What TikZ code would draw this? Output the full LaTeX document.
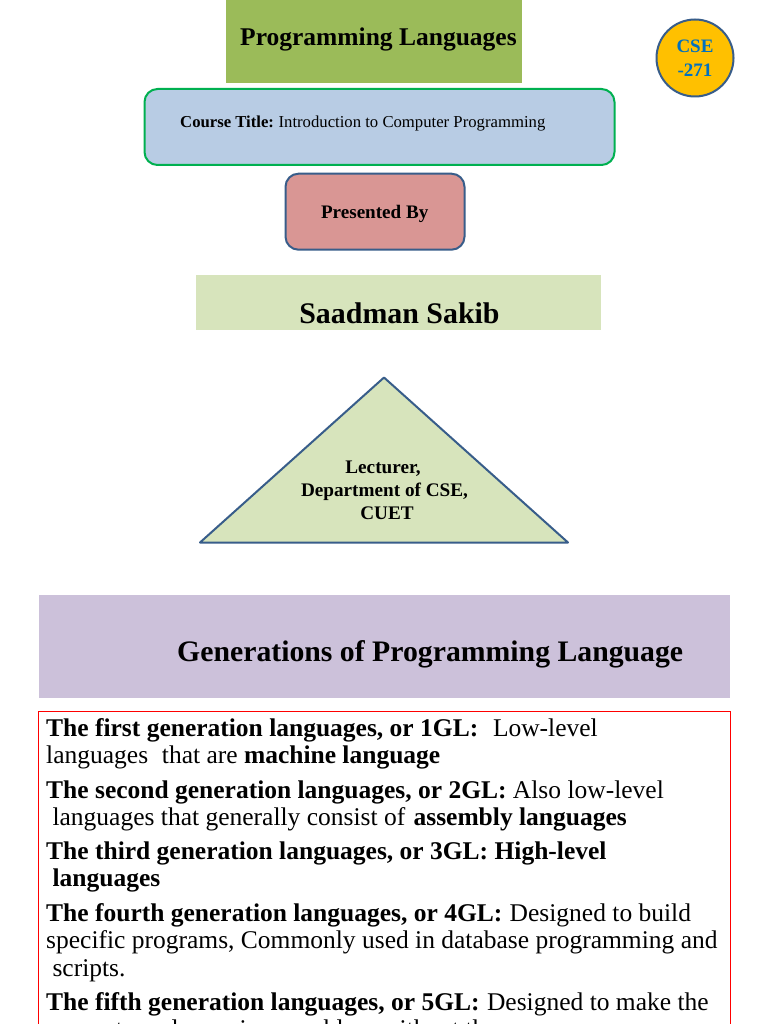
\documentclass[tikz,border=0pt]{standalone}
\usepackage{fontspec}
\setmainfont{Liberation Serif}
\definecolor{grn}{HTML}{9BBB59}
\definecolor{blu}{HTML}{B8CCE4}
\definecolor{edgeg}{HTML}{00B050}
\definecolor{edgeb}{HTML}{385D8A}
\definecolor{rd}{HTML}{D99694}
\definecolor{lgrn}{HTML}{D7E4BC}
\definecolor{purp}{HTML}{CCC1DA}
\definecolor{yel}{HTML}{FFC000}
\definecolor{cset}{HTML}{0070C0}
\tikzset{x=1pt,y=-1pt,
 txt/.style={anchor=base west,inner sep=0pt,font=\fontsize{25.5}{25.5}\selectfont},
 boxtxt/.style={font=\bfseries,inner sep=0pt}}
\begin{document}
\begin{tikzpicture}
\useasboundingbox (0,0) rectangle (768,1024);
\fill[white] (0,0) rectangle (768,1024);
\node[draw=none,fill=grn,minimum width=296,minimum height=83,inner sep=0,anchor=north west] (title) at (226,0) {};
\node[boxtxt,anchor=base west,font=\bfseries\fontsize{25.5}{25.5}\selectfont] (titlet) at (240,45.7) {Programming Languages};
\node[draw=edgeb,line width=2pt,fill=yel,circle,minimum size=77,inner sep=0,align=center,text=cset,font=\bfseries\fontsize{19}{24}\selectfont] (cse) at (695,58) {CSE\\-271};
\node[draw=edgeg,line width=2pt,fill=blu,rounded corners=13,minimum width=470,minimum height=76,anchor=north west,inner sep=0] (course) at (143.5,88) {};
\node[anchor=base west,inner sep=0,font=\fontsize{16.7}{16.7}\selectfont] (courset) at (180,128) {\textbf{Course Title:}\hspace{-1pt} Introduction to Computer Programming};
\node[draw=edgeb,line width=2pt,fill=rd,rounded corners=13,minimum width=179,minimum height=76,anchor=north west,inner sep=0] (pres) at (284.5,172.7) {};
\node[anchor=base,inner sep=0,font=\bfseries\fontsize{19.1}{19.1}\selectfont] (prest) at (374.7,218.7) {Presented By};
\node[fill=lgrn,minimum width=405,minimum height=55,anchor=north west,inner sep=0] (name) at (196,275) {};
\node[anchor=base,inner sep=0,font=\bfseries\fontsize{29.9}{29.9}\selectfont] (namet) at (399.5,323) {Saadman Sakib};
\coordinate (ta) at (384,377.5);
\coordinate (tb) at (568,542.5);
\coordinate (tc) at (200,542.5);
\draw[edgeb,line width=2pt,fill=lgrn,line join=round] (ta) -- (tb) -- (tc) -- cycle;
\node[align=center,inner sep=0,font=\bfseries\fontsize{19.2}{23}\selectfont] (lect) at (384.5,490) {Lecturer,\hspace*{3pt}\\Department of CSE,\\\hspace*{5pt}CUET};
\node[fill=purp,minimum width=691,minimum height=103,anchor=north west,inner sep=0] (gen) at (38.5,595) {};
\node[anchor=base west,inner sep=0,font=\bfseries\fontsize{29.75}{29.75}\selectfont] (gent) at (177,661) {Generations of Programming Language};
\path[draw=red,line width=0.7pt,fill=white] (38.5,711) -- (730.5,711) -- (730.5,1030) -- (38.5,1030) -- cycle;
\begin{scope}
\clip (0,0) rectangle (768,1024);
\node[txt] (l1) at (46,736) {\textbf{The first generation languages, or 1GL:}\ \ \hspace{2pt}Low-level};
\node[txt] (l2) at (46,763.5) {languages\ \ \hspace{1pt}that are \textbf{machine language}};
\node[txt] (l3) at (46,798) {\textbf{The second generation languages, or 2GL:} Also low-level};
\node[txt] (l4) at (46,825) {\ languages that generally consist of\hspace{2pt} \textbf{assembly languages}};
\node[txt] (l5) at (46,859.5) {\textbf{The third generation languages, or 3GL: High-level}};
\node[txt] (l6) at (46,886.5) {\textbf{\ languages}};
\node[txt] (l7) at (46,921) {\textbf{The fourth generation languages, or 4GL:} \hspace{1pt}Designed to build};
\node[txt] (l8) at (46,948) {specific programs, Commonly used in database programming and};
\node[txt] (l9) at (46,976) {\ scripts.};
\node[txt] (l10) at (46,1010) {\textbf{The fifth generation languages, or 5GL:} \hspace{1pt}Designed to make the};
\node[txt] (l11) at (46,1037) {computer solve a given problem without the};
\end{scope}
\end{tikzpicture}
\end{document}
